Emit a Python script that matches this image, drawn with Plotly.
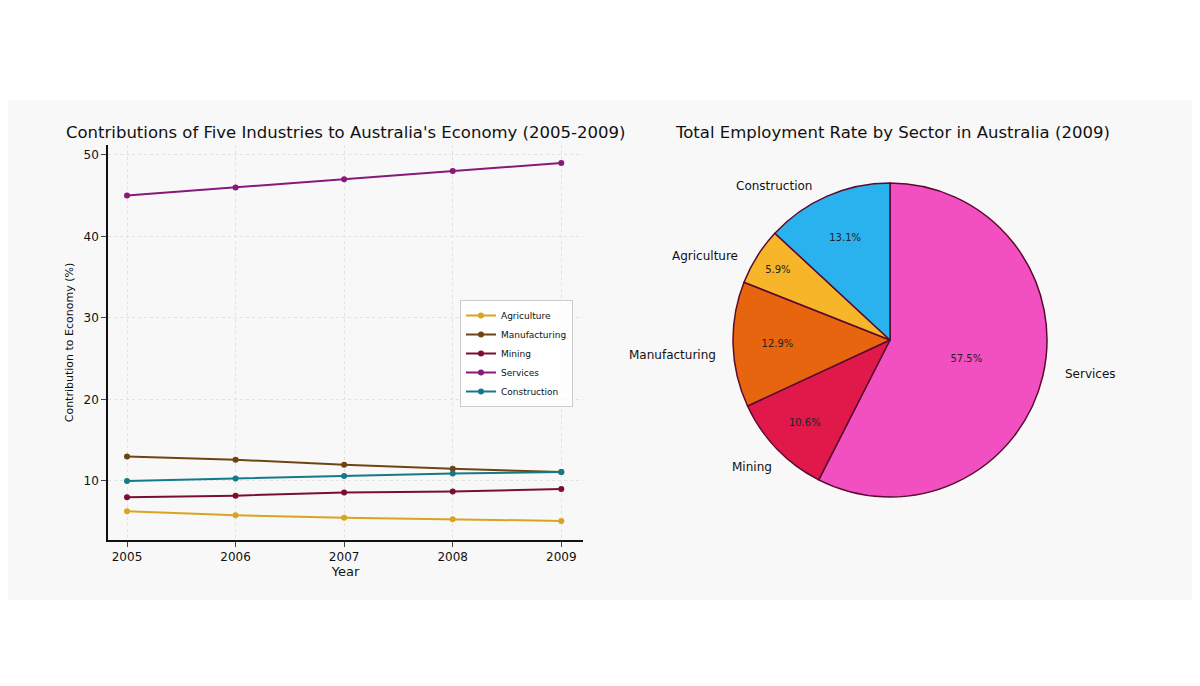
import plotly.graph_objects as go

years = [2005, 2006, 2007, 2008, 2009]
agriculture = [6.3, 5.8, 5.5, 5.3, 5.1]
manufacturing = [13.0, 12.6, 12.0, 11.5, 11.1]
mining = [8.0, 8.2, 8.6, 8.7, 9.0]
services = [45, 46, 47, 48, 49]
construction = [10.0, 10.3, 10.6, 10.9, 11.1]

pie_labels = ["Services", "Mining", "Manufacturing", "Agriculture", "Construction"]
pie_values = [57.5, 10.6, 12.9, 5.9, 13.1]
pie_colors = ["#f24fc0", "#e0194a", "#e8650f", "#f7b52a", "#2ab2ee"]

series = [("Agriculture", agriculture, "#d9a520"), ("Manufacturing", manufacturing, "#6e4512"),
          ("Mining", mining, "#7a0f30"), ("Services", services, "#86197a"),
          ("Construction", construction, "#137a8a")]

OFF = 8  # page body margin
FW, FH = 1184, 670
L, R, T, B = 100, 20, 137, 138
W, H = FW - L - R, FH - T - B
def px(x): return (x - OFF - L) / W
def py(y): return (FH - B - (y - OFF)) / H

fig = go.Figure()
for name, vals, c in series:
    fig.add_trace(go.Scatter(x=years, y=vals, name=name, mode="lines+markers",
                             line=dict(color=c, width=2), marker=dict(size=6, color=c)))

fig.add_trace(go.Pie(labels=pie_labels, values=pie_values, sort=False, direction="clockwise",
                     rotation=0, marker=dict(colors=pie_colors, line=dict(color="#5a0a30", width=1.5)),
                     texttemplate="%{percent:.1%}", textposition="inside", insidetextorientation="horizontal",
                     textfont=dict(size=10, color="#222"), showlegend=False,
                     domain=dict(x=[px(733), px(1047)], y=[py(497), py(183)])))

fig.add_shape(type="rect", xref="paper", yref="paper", x0=-0.2, x1=1.1, y0=py(600), y1=py(100),
              fillcolor="#f8f8f8", line_width=0, layer="below")

fig.update_layout(
    width=FW, height=FH, paper_bgcolor="white", plot_bgcolor="rgba(0,0,0,0)",
    font=dict(family="DejaVu Sans", size=11, color="#111"),
    margin=dict(l=L, r=R, t=T, b=B),
    xaxis=dict(domain=[0, px(583)], range=[2004.825, 2009.2], tickvals=years, showgrid=True,
               gridcolor="#e2e2e2", griddash="dot", showline=True, linecolor="#111", linewidth=1.5,
               ticks="outside", title=dict(text="Year", standoff=2), tickfont=dict(size=12)),
    yaxis=dict(range=[2.76, 51.2], tickvals=[10, 20, 30, 40, 50], showgrid=True, gridcolor="#e2e2e2",
               griddash="dot", showline=True, linecolor="#111", linewidth=1.5, ticks="outside",
               tickfont=dict(size=12),
               title=dict(text="Contribution to Economy (%)", font=dict(size=11), standoff=8)),
    legend=dict(x=px(460), y=py(300), xanchor="left", yanchor="top", bgcolor="rgba(255,255,255,0.8)",
                bordercolor="#ccc", borderwidth=1, font=dict(size=9), tracegroupgap=0),
)
texts = [("Contributions of Five Industries to Australia's Economy (2005-2009)", 345, 132, 16.5),
         ("Total Employment Rate by Sector in Australia (2009)", 892, 132, 16.5),
         ("Construction", 774, 186, 12), ("Agriculture", 705, 256, 12), ("Manufacturing", 672, 355, 12),
         ("Mining", 752, 467, 12), ("Services", 1090, 374, 12)]
for txt, x, y, s in texts:
    fig.add_annotation(text=txt, x=px(x), y=py(y), xref="paper", yref="paper", xanchor="center",
                       yanchor="middle", showarrow=False, font=dict(size=s))
fig.write_html("out.html")
